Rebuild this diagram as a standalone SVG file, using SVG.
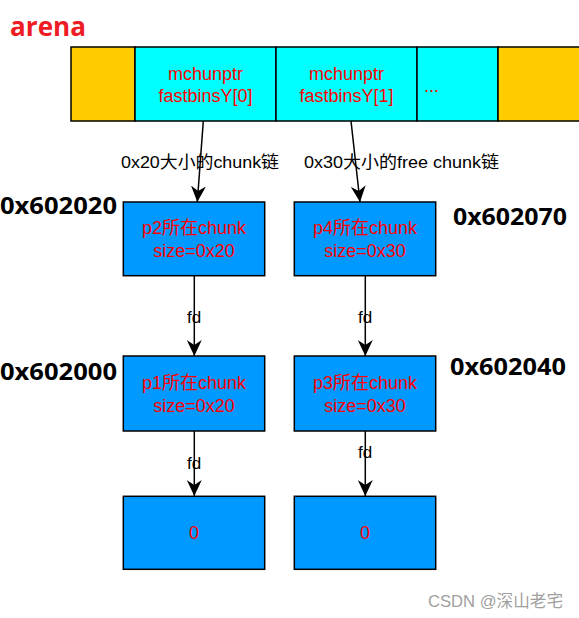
<svg xmlns="http://www.w3.org/2000/svg" width="579" height="618" viewBox="0 0 579 618">
<style>
.cell{stroke:#000;stroke-width:1.5}
.cyan{fill:#00FFFF}
.orange{fill:#FFCC00}
.box{fill:#0099FF;stroke:#000;stroke-width:1.5}
.rt{fill:#FF0000;font-family:"Liberation Sans","Noto Sans CJK SC",sans-serif;font-size:18px;text-anchor:middle}
.bt{fill:#000;font-family:"Liberation Sans","Noto Sans CJK SC",sans-serif;font-size:17px}
.addr{fill:#000;font-family:"Open Sans","Noto Sans",sans-serif;font-size:23px;font-weight:700}
.edge{stroke:#000;stroke-width:1.5;fill:none;marker-end:url(#arr)}
</style>
<defs>
<marker id="arr" viewBox="0 0 16 15" refX="16" refY="7.5" markerWidth="16" markerHeight="15" orient="auto" markerUnits="userSpaceOnUse">
<path d="M0,0 L16,7.5 L0,15 L5,7.5 Z" fill="#000"/>
</marker>
</defs>
<rect width="579" height="618" fill="#fff"/>
<text x="10" y="36" font-family="'Open Sans','Noto Sans',sans-serif" font-size="27" font-weight="700" fill="#EE1C25" textLength="76" lengthAdjust="spacingAndGlyphs">arena</text>
<g id="arena-bar">
<rect class="cell orange" x="71" y="47" width="64" height="74"/>
<rect class="cell cyan" x="135" y="47" width="141" height="74"/>
<rect class="cell cyan" x="276" y="47" width="141" height="74"/>
<rect class="cell cyan" x="417" y="47" width="81" height="74"/>
<rect class="cell orange" x="498" y="47" width="90" height="74"/>
<text class="rt" x="205.5" y="80">mchunptr</text>
<text class="rt" x="205.5" y="101.5">fastbinsY[0]</text>
<text class="rt" x="346.5" y="80">mchunptr</text>
<text class="rt" x="346.5" y="101.5">fastbinsY[1]</text>
<text class="rt" x="424" y="92" style="text-anchor:start">...</text>
</g>
<g id="connectors">
<line class="edge" x1="203.3" y1="121" x2="197.3" y2="202"/>
<line class="edge" x1="351" y1="121" x2="360" y2="202"/>
<line class="edge" x1="194.3" y1="275.7" x2="194.3" y2="356"/>
<line class="edge" x1="365.3" y1="275.7" x2="365.3" y2="356"/>
<line class="edge" x1="194.3" y1="431" x2="194.3" y2="496"/>
<line class="edge" x1="365.3" y1="431" x2="365.3" y2="496"/>
<text class="bt" x="121" y="168" textLength="158" lengthAdjust="spacingAndGlyphs">0x20大小的chunk链</text>
<text class="bt" x="304" y="168" textLength="195" lengthAdjust="spacingAndGlyphs">0x30大小的free chunk链</text>
<text class="bt" x="194" y="322.5" text-anchor="middle">fd</text>
<text class="bt" x="365" y="322.5" text-anchor="middle">fd</text>
<text class="bt" x="194" y="469" text-anchor="middle">fd</text>
<text class="bt" x="365" y="457.5" text-anchor="middle">fd</text>
</g>
<g id="p2">
<rect class="box" x="123.3" y="202" width="141.4" height="73.7"/>
<text class="rt" x="194" y="234">p2所在chunk</text>
<text class="rt" x="194" y="256.5">size=0x20</text>
</g>
<g id="p4">
<rect class="box" x="294.3" y="202" width="141.4" height="73.7"/>
<text class="rt" x="365" y="234">p4所在chunk</text>
<text class="rt" x="365" y="256.5">size=0x30</text>
</g>
<g id="p1">
<rect class="box" x="123.3" y="356" width="141.4" height="75"/>
<text class="rt" x="194" y="389">p1所在chunk</text>
<text class="rt" x="194" y="411.5">size=0x20</text>
</g>
<g id="p3">
<rect class="box" x="294.3" y="356" width="141.4" height="75"/>
<text class="rt" x="365" y="389">p3所在chunk</text>
<text class="rt" x="365" y="411.5">size=0x30</text>
</g>
<g id="null1">
<rect class="box" x="123.3" y="496.3" width="141.4" height="73"/>
<text class="rt" x="194" y="539">0</text>
</g>
<g id="null2">
<rect class="box" x="294.3" y="496.3" width="141.4" height="73"/>
<text class="rt" x="365" y="539">0</text>
</g>
<g id="addresses">
<text class="addr" x="0" y="213.5" textLength="117" lengthAdjust="spacingAndGlyphs">0x602020</text>
<text class="addr" x="0" y="379.5" textLength="117" lengthAdjust="spacingAndGlyphs">0x602000</text>
<text class="addr" x="453" y="225" textLength="114" lengthAdjust="spacingAndGlyphs">0x602070</text>
<text class="addr" x="450" y="374.5" textLength="116" lengthAdjust="spacingAndGlyphs">0x602040</text>
</g>
<text x="428" y="607" font-family="'Liberation Sans','Noto Sans CJK SC',sans-serif" font-size="16.5" fill="#A0A0A0" textLength="135" lengthAdjust="spacingAndGlyphs">CSDN @深山老宅</text>
</svg>
